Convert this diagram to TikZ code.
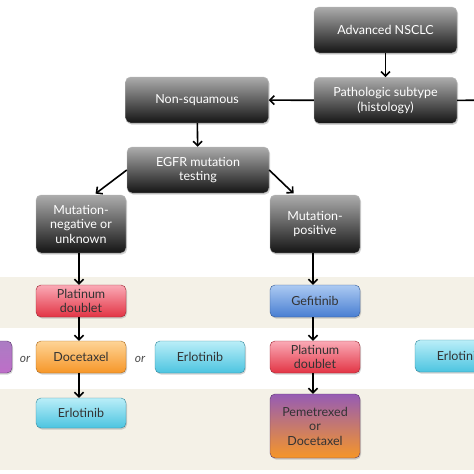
\documentclass[tikz,border=0pt]{standalone}
\usepackage{fontspec}
\setmainfont{Lato}
\usetikzlibrary{arrows.meta, positioning, shadows}
\definecolor{bandbg}{RGB}{244,241,231}
\definecolor{redtop}{RGB}{250,170,182}
\definecolor{redbot}{RGB}{226,52,68}
\definecolor{bluetop}{RGB}{172,202,242}
\definecolor{bluebot}{RGB}{72,126,210}
\definecolor{orgtop}{RGB}{254,212,150}
\definecolor{orgbot}{RGB}{246,150,40}
\definecolor{cyantop}{RGB}{186,238,248}
\definecolor{cyanbot}{RGB}{76,196,224}
\definecolor{purptop}{RGB}{150,92,180}
\definecolor{purpbot}{RGB}{190,110,200}

\begin{document}
\begin{tikzpicture}[
    x=1pt, y=-1pt, font=\fontsize{12.5}{14.5}\selectfont, >={Straight Barb[length=4.5pt,width=9pt]}, node distance=24pt,
    dark/.style  ={rectangle, rounded corners=5pt, draw=gray!55, top color=gray!65, bottom color=black!92, text=white, align=center, minimum width=143pt, minimum height=46pt, drop shadow={opacity=0.35, shadow xshift=1pt, shadow yshift=-1.5pt}},
    mut/.style   ={dark, minimum width=90pt, minimum height=58pt},
    drug/.style  ={rectangle, rounded corners=5pt, text=black!80, align=center, minimum width=90pt, minimum height=32pt, drop shadow={opacity=0.35, shadow xshift=1pt, shadow yshift=-1.5pt}},
    platin/.style={drug, draw=redbot!70!black, top color=redtop, bottom color=redbot},
    gefit/.style ={drug, draw=bluebot!70!black, top color=bluetop, bottom color=bluebot},
    docet/.style ={drug, draw=orgbot!70!black, top color=orgtop, bottom color=orgbot},
    erlot/.style ={drug, draw=cyanbot!70!black, top color=cyantop, bottom color=cyanbot},
    pemet/.style ={drug, draw=purptop!60!black, top color=purptop, bottom color=orgbot, minimum height=64pt},
    purp/.style  ={drug, draw=purptop!60!black, top color=purptop!80, bottom color=purpbot},
    ortext/.style={font=\fontsize{12}{14}\selectfont\itshape, text=black!70},
    arr/.style   ={->, line width=1.6pt},
]
\useasboundingbox (0,0) rectangle (474,474);
\clip (0,0) rectangle (474,474);
\fill[white] (0,0) rectangle (474,474);
\fill[bandbg] (0,277) rectangle (474,328);
\fill[bandbg] (0,389) rectangle (474,470);

\node[dark] (adv)  at (385.5,30) {Advanced NSCLC};
\node[dark, below=of adv] (path) {Pathologic subtype\\(histology)};
\node[dark] (nonsq) at (197,100) {Non-squamous};
\node[dark, minimum width=142pt] (egfr) at (198,170) {EGFR mutation\\testing};
\node[mut] (mneg) at (81,224) {Mutation-\\negative or\\unknown};
\node[mut] (mpos) at (315,224) {Mutation-\\positive};
\coordinate (edge) at (490,100);

\node[platin] (plat1) at (81,301) {Platinum\\doublet};
\node[gefit]  (gef)   at (315,301) {Gefitinib};
\node[docet]  (doc1)  at (81,357) {Docetaxel};
\node[purp]   (pur1)  at (-33,357) {};
\node[erlot]  (erl1)  at (200,357) {Erlotinib};
\node[platin] (plat2) at (315,357) {Platinum\\doublet};
\node[erlot]  (erl2)  at (460,356) {Erlotinib};
\node[erlot, minimum height=30pt] (erl3) at (81,413) {Erlotinib};
\node[pemet]  (pem)   at (315,426) {Pemetrexed\\or\\Docetaxel};
\node[ortext] (or1) at (25,359) {or};
\node[ortext] (or2) at (140,359) {or};

\draw[arr] (adv)--(path);
\draw[arr] (path)--(nonsq);
\draw[line width=1.6pt] (path.east)--(edge);
\draw[arr] (nonsq)--(egfr);
\draw[arr, shorten >=2pt] (egfr.west)--([xshift=13pt]mneg.north);
\draw[arr, shorten >=2pt] (egfr.east)--([xshift=-20pt]mpos.north);
\draw[arr] ([xshift=-2pt]mneg.south)--([xshift=-2pt]plat1.north);
\draw[arr] ([xshift=-2pt]mpos.south)--([xshift=-2pt]gef.north);
\draw[arr] ([xshift=-2pt]plat1.south)--([xshift=-2pt]doc1.north);
\draw[arr] ([xshift=-2pt]doc1.south)--([xshift=-2pt]erl3.north);
\draw[arr] ([xshift=-2pt]gef.south)--([xshift=-2pt]plat2.north);
\draw[arr] ([xshift=-2pt]plat2.south)--([xshift=-2pt]pem.north);
\end{tikzpicture}
\end{document}
